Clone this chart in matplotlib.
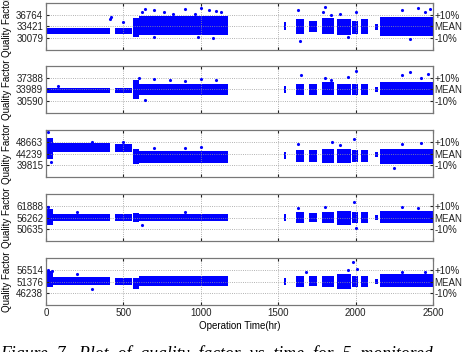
import matplotlib.pyplot as plt
import numpy as np

plt.rcParams['font.family'] = ['Liberation Sans', 'DejaVu Sans']

# operating segments (hr) shared by all five monitored nodes
seg_start = [5, 45, 446, 565, 600, 1540, 1615, 1700, 1780, 1878, 1975, 2035, 2125, 2160]
seg_end = [45, 413, 555, 600, 1176, 1552, 1668, 1752, 1860, 1968, 2018, 2082, 2145, 2500]

means = [33421, 33989, 44239, 56262, 51376]
left_labels = [
    ['30079', '33421', '36764'],
    ['30590', '33989', '37388'],
    ['39815', '44239', '48663'],
    ['50635', '56262', '61888'],
    ['46238', '51376', '56514'],
]
right_labels = ['-10%', 'MEAN', '+10%']

# dense band of each segment, % deviation from mean (low, high)
p1_lo = [-6, -6, -6, -9, -7, -3, -6, -5, -6, -7, -6, -6, -3, -8]
p1_hi = [-1, -1, -1.5, 7, 9, 4, 6, 5, 7, 6, 5, 6, 2, 8]
p2_lo = [-3, -3, -3, -8, -5, -3, -5, -5, -5, -5, -5, -5, -2, -5]
p2_hi = [1, 1, 1, 8, 5, 3, 5, 5, 6, 5, 5, 5, 2, 6]
p3_lo = [-5, 1, 1, -9, -8, -5, -7, -7, -8, -8, -7, -7, -3, -9]
p3_hi = [13, 9, 8, 4, 2, 1, 3, 3, 4, 4, 3, 3, 1, 4]
p4_lo = [-6, -3, -3, -4, -3, -3, -5, -4, -5, -6, -5, -5, -2, -5]
p4_hi = [7, 3, 3, 4, 3, 3, 5, 4, 5, 6, 5, 5, 2, 6]
p5_lo = [-5, -3, -3, -6, -4, -3, -5, -4, -5, -6, -5, -5, -2, -5]
p5_hi = [9, 4, 3, 3, 5, 3, 5, 5, 5, 6, 5, 5, 2, 6]

# scattered points outside the dense bands (hr, % deviation)
p1_out_t = [415, 420, 497, 620, 640, 700, 760, 820, 900, 960, 1000, 1050, 1100, 1130, 980, 700,
            1080, 1630, 1640, 1800, 1790, 1840, 1900, 1950, 2000, 2300, 2400, 2450, 2480, 2350]
p1_out_v = [6, 8, 4, 12, 15, 14, 12, 11, 15, 11, 16, 14, 13, 12, -9, -9,
            -10, 14, -12, 17, 12, 10, 11, -9, 12, 14, 16, 12, 15, -11]
p2_out_t = [78, 600, 640, 700, 800, 900, 1000, 1100, 1650, 1800, 1840, 1950, 2000, 2300, 2350, 2420, 2470]
p2_out_v = [3, 10, -9, 9, 8, 7, 9, 8, 12, 10, 8, 11, 16, 12, 15, 10, 13]
p3_out_t = [15, 30, 300, 500, 700, 900, 1000, 1630, 1850, 1900, 1990, 2300, 2420, 2250]
p3_out_v = [18, -7, 10, 10, 5, 5, 6, 8, 10, 7, 12, 8, 9, -12]
p4_out_t = [10, 200, 620, 900, 1630, 1800, 1990, 2000, 2300, 2400]
p4_out_v = [9, 5, -6, 5, 8, 9, 13, -9, 9, 8]
p5_out_t = [10, 40, 200, 300, 1680, 1950, 1985, 2010, 2300, 2450]
p5_out_v = [10, 9, 6, -6, 8, 10, 17, 11, 8, 8]

bands = [(p1_lo, p1_hi), (p2_lo, p2_hi), (p3_lo, p3_hi), (p4_lo, p4_hi), (p5_lo, p5_hi)]
outliers = [(p1_out_t, p1_out_v), (p2_out_t, p2_out_v), (p3_out_t, p3_out_v),
            (p4_out_t, p4_out_v), (p5_out_t, p5_out_v)]

fig = plt.figure(figsize=(4.74, 3.52), dpi=100)
blue = '#0000ff'
bottoms = [0.858, 0.679, 0.497, 0.315, 0.1335]

for i in range(5):
    ax = fig.add_axes([0.097, bottoms[i], 0.8165, 0.1335])
    m = means[i]
    lo, hi = bands[i]
    for s, e, l, h in zip(seg_start, seg_end, lo, hi):
        ax.fill_between([s, e], m * (1 + l / 100), m * (1 + h / 100), color=blue, lw=0)
    ot, ov = outliers[i]
    ax.plot(ot, [m * (1 + v / 100) for v in ov], '.', color=blue, ms=2.5)

    ax.set_xlim(0, 2500)
    ax.set_ylim(m * 0.8, m * 1.2)
    yt = [m * 0.9, m, m * 1.1]
    ax.set_yticks(yt)
    ax.set_yticklabels(left_labels[i], fontsize=7)
    ax.set_xticks([0, 500, 1000, 1500, 2000, 2500])
    if i == 4:
        ax.set_xticklabels(['0', '500', '1000', '1500', '2000', '2500'], fontsize=7)
        ax.set_xlabel('Operation Time(hr)', fontsize=7, labelpad=2)
    else:
        ax.set_xticklabels([])
    ax.set_ylabel('Quality Factor', fontsize=7, labelpad=3)
    ax.grid(True, linestyle=':', color='#999999', linewidth=0.6)
    ax.tick_params(direction='in', length=2.5, pad=2, colors='#222222', top=True)
    for sp in ax.spines.values():
        sp.set_color('#777777')
        sp.set_linewidth(0.8)

    ax2 = ax.twinx()
    ax2.set_ylim(m * 0.8, m * 1.2)
    ax2.set_yticks(yt)
    ax2.set_yticklabels(right_labels, fontsize=7)
    ax2.tick_params(direction='in', length=2.5, pad=1, colors='#222222')
    for sp in ax2.spines.values():
        sp.set_color('#777777')
        sp.set_linewidth(0.8)

fig.text(0.0, -0.02, 'Figure  7.  Plot  of  quality  factor  vs  time  for  5  monitored',
         family='Liberation Serif', style='italic', fontsize=12.8, va='baseline', ha='left')

fig.savefig('out.png', dpi=100)
